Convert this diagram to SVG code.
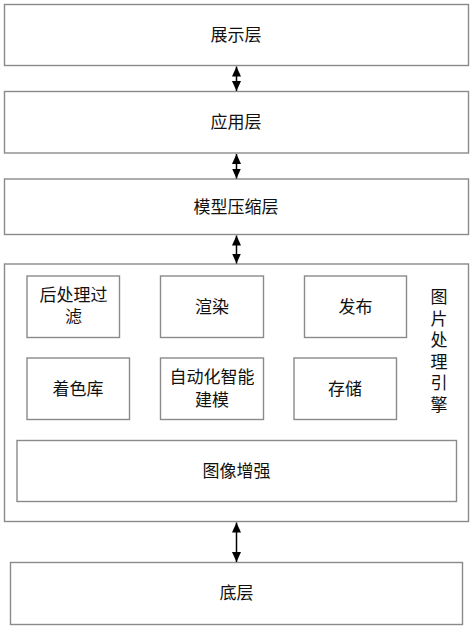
<svg xmlns="http://www.w3.org/2000/svg" width="474" height="629" viewBox="0 0 474 629">
<defs>
<style>
.box{fill:#ffffff;stroke:#8a8a8a;stroke-width:1.4}
.t{font-family:"Liberation Sans","Noto Sans CJK SC",sans-serif;font-size:17px;fill:#111111;text-anchor:middle}
.c{stroke:#000000;stroke-width:1.5;fill:none;marker-start:url(#ah);marker-end:url(#ah)}
</style>
<marker id="ah" viewBox="0 0 10 10" refX="10" refY="5" markerWidth="10" markerHeight="10" markerUnits="userSpaceOnUse" orient="auto-start-reverse">
<path d="M0,0.5 L10,5 L0,9.5 Z" fill="#000000"/>
</marker>
</defs>
<rect width="474" height="629" fill="#ffffff"/>
<g id="n-display">
<rect class="box" x="4.5" y="4.5" width="464" height="61"/>
<text class="t" x="236" y="41">展示层</text>
</g>
<g id="n-app">
<rect class="box" x="4.5" y="91.5" width="464" height="61.5"/>
<text class="t" x="236" y="128">应用层</text>
</g>
<g id="n-compress">
<rect class="box" x="4.5" y="179" width="464" height="55.5"/>
<text class="t" x="236" y="213">模型压缩层</text>
</g>
<g id="n-engine">
<rect class="box" x="4.5" y="264" width="464" height="257.5"/>
<text class="t"><tspan x="439" y="303">图</tspan><tspan x="439" y="324.5">片</tspan><tspan x="439" y="346">处</tspan><tspan x="439" y="367.5">理</tspan><tspan x="439" y="389">引</tspan><tspan x="439" y="410.5">擎</tspan></text>
</g>
<g id="n-filter">
<rect class="box" x="27" y="276" width="92.5" height="61.5"/>
<text class="t"><tspan x="73.5" y="301">后处理过</tspan><tspan x="73.5" y="322.5">滤</tspan></text>
</g>
<g id="n-render">
<rect class="box" x="160.5" y="276" width="103" height="61.5"/>
<text class="t" x="212" y="313">渲染</text>
</g>
<g id="n-publish">
<rect class="box" x="304.5" y="276" width="102" height="61.5"/>
<text class="t" x="355.5" y="313">发布</text>
</g>
<g id="n-shader">
<rect class="box" x="27" y="358" width="102.5" height="61.5"/>
<text class="t" x="78" y="395">着色库</text>
</g>
<g id="n-model">
<rect class="box" x="160.5" y="358" width="103" height="61.5"/>
<text class="t"><tspan x="212" y="382.5">自动化智能</tspan><tspan x="212" y="406">建模</tspan></text>
</g>
<g id="n-storage">
<rect class="box" x="294" y="358" width="102.5" height="61.5"/>
<text class="t" x="345" y="395">存储</text>
</g>
<g id="n-enhance">
<rect class="box" x="17" y="440.5" width="439.5" height="61"/>
<text class="t" x="236.5" y="477">图像增强</text>
</g>
<g id="n-bottom">
<rect class="box" x="10.5" y="562.5" width="452" height="62"/>
<text class="t" x="236.5" y="599">底层</text>
</g>
<g id="connectors">
<line class="c" x1="236.5" y1="66.5" x2="236.5" y2="91"/>
<line class="c" x1="236.5" y1="154" x2="236.5" y2="178.5"/>
<line class="c" x1="236.5" y1="235.5" x2="236.5" y2="263.5"/>
<line class="c" x1="236.5" y1="522.5" x2="236.5" y2="562"/>
</g>
</svg>
